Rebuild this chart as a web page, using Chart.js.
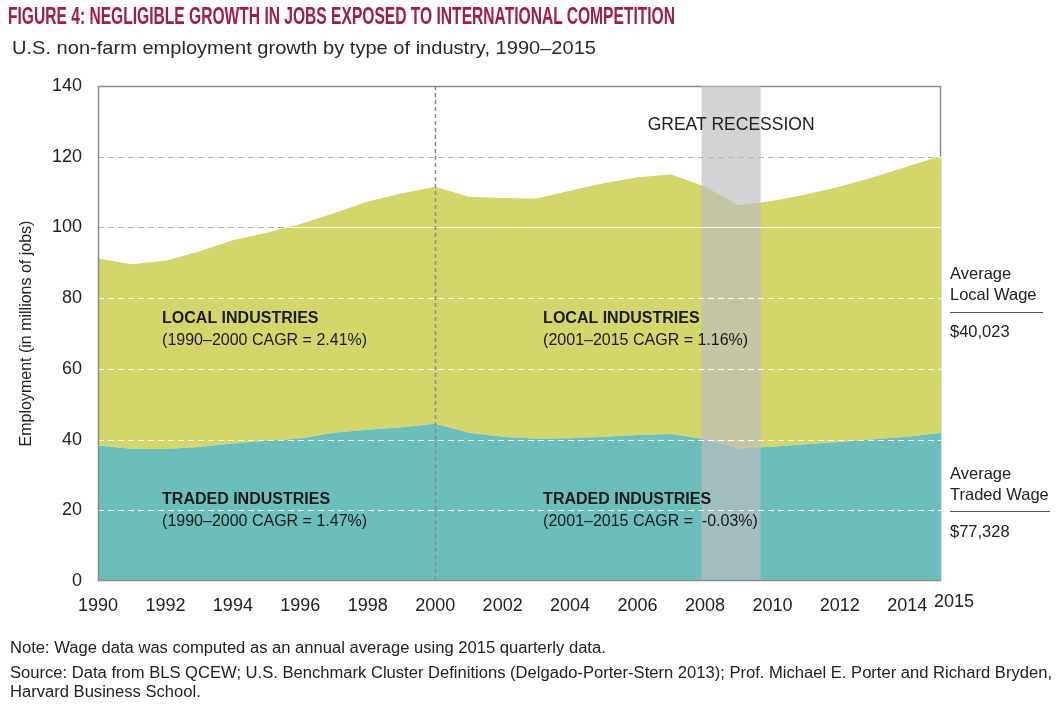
<!DOCTYPE html>
<html>
<head>
<meta charset="utf-8">
<script src="https://cdn.jsdelivr.net/npm/chart.js@4.4.0/dist/chart.umd.min.js"></script>
<style>
html,body{margin:0;padding:0;background:#fff;}
body{width:1062px;height:714px;position:relative;overflow:hidden;font-family:"Liberation Sans",Arial,sans-serif;color:#222;}
#wrap{position:absolute;left:0;top:0;width:1062px;height:714px;}
.t{position:absolute;white-space:nowrap;}
#title{left:8px;font-weight:bold;color:#a31d40;font-size:23.5px;}
#subtitle{left:12px;font-size:19px;color:#2a2a2a;}
.note{left:10px;font-size:16px;color:#222;}
.side{left:950px;font-size:16.5px;line-height:20px;color:#222;}
.rule{position:absolute;left:950px;height:0;border-top:1px solid #555;}
</style>
</head>
<body>
<div id="wrap"><canvas id="c" width="1062" height="714"></canvas></div>
<div class="t" id="title">FIGURE 4: NEGLIGIBLE GROWTH IN JOBS EXPOSED TO INTERNATIONAL COMPETITION</div>
<div class="t" id="subtitle">U.S. non-farm employment growth by type of industry, 1990–2015</div>

<div class="t side" style="top:263px">Average</div>
<div class="t side" style="top:284px">Local Wage</div>
<div class="rule" style="top:312px;width:93px"></div>
<div class="t side" style="top:321px">$40,023</div>

<div class="t side" style="top:463px">Average</div>
<div class="t side" style="top:484px">Traded Wage</div>
<div class="rule" style="top:511px;width:100px"></div>
<div class="t side" style="top:521px">$77,328</div>

<div class="t note" id="note1">Note: Wage data was computed as an annual average using 2015 quarterly data.</div>
<div class="t note" id="note2">Source: Data from BLS QCEW; U.S. Benchmark Cluster Definitions (Delgado-Porter-Stern 2013); Prof. Michael E. Porter and Richard Bryden,</div>
<div class="t note" id="note3">Harvard Business School.</div>

<script>
// ---------------- data ----------------
const years = [1990,1991,1992,1993,1994,1995,1996,1997,1998,1999,2000,2001,2002,2003,2004,2005,2006,2007,2008,2009,2010,2011,2012,2013,2014,2015];
const tradedJobs = [38.3,37.4,37.3,37.9,38.9,39.7,40.3,41.9,42.8,43.5,44.5,41.9,40.8,40.2,40.4,40.8,41.3,41.6,40.1,37.5,38.0,38.7,39.3,40.1,40.8,41.9];
const localJobs  = [52.9,52.2,53.3,55.3,57.5,58.8,60.7,62.1,64.5,66.1,67.0,66.8,67.5,68.0,70.0,71.7,72.9,73.4,71.5,68.8,69.5,70.6,72.3,74.1,76.4,78.3];
const xTickYears = [1990,1992,1994,1996,1998,2000,2002,2004,2006,2008,2010,2012,2014,2015];
const yTickStep = 20;
const recessionSpan = [2007.9, 2009.65];
const periodSplitYear = 2000;
const seriesNames = ['Traded industries','Local industries'];
const periodLabels = [
  {x:1991.9, y:74.1, bold:'LOCAL INDUSTRIES',  text:'(1990–2000 CAGR = 2.41%)'},
  {x:2003.2, y:74.1, bold:'LOCAL INDUSTRIES',  text:'(2001–2015 CAGR = 1.16%)'},
  {x:1991.9, y:22.9, bold:'TRADED INDUSTRIES', text:'(1990–2000 CAGR = 1.47%)'},
  {x:2003.2, y:22.9, bold:'TRADED INDUSTRIES', text:'(2001–2015 CAGR =  -0.03%)'}
];
const recessionLabel = {y:128.8, text:'GREAT RECESSION'};

// ---------------- text placement (condensed by horizontal scaling) ----------------
function placeText(id, centerY, targetWidth, k){
  const el = document.getElementById(id);
  const fs = parseFloat(getComputedStyle(el).fontSize);
  el.style.lineHeight = (fs*1.2) + 'px';
  el.style.top = (centerY - fs*0.6) + 'px';
  if (targetWidth && !k) k = targetWidth / el.getBoundingClientRect().width;
  if (k) {
    el.style.transformOrigin = 'left center';
    el.style.transform = 'scaleX(' + k + ')';
  }
  return k;
}
placeText('title', 16.5, 667);
placeText('subtitle', 48, 584);
const noteK = placeText('note2', 673, 1042);
placeText('note1', 648, 0, noteK);
placeText('note3', 692, 0, noteK);

// ---------------- chart ----------------
const FONT = '"Liberation Sans", Arial, sans-serif';
const overlay = {
  id:'overlay',
  beforeDatasetsDraw(chart){
    const {ctx, chartArea:a} = chart;
    ctx.save();
    ctx.strokeStyle = '#8c8c8c'; ctx.lineWidth = 1.5;
    ctx.beginPath();
    ctx.moveTo(a.left, a.top + 0.5); ctx.lineTo(a.right - 0.5, a.top + 0.5); ctx.lineTo(a.right - 0.5, a.bottom);
    ctx.stroke();
    ctx.restore();
  },
  afterDatasetsDraw(chart){
    const {ctx, chartArea:a, scales:{x, y}} = chart;
    const pts = chart.getDatasetMeta(1).data.map(p => ({x:p.x, y:p.y}));
    // recession band
    const bx0 = x.getPixelForValue(recessionSpan[0]);
    const bx1 = x.getPixelForValue(recessionSpan[1]);
    ctx.save();
    ctx.fillStyle = 'rgba(190,190,194,0.67)';
    ctx.fillRect(bx0, a.top, bx1 - bx0, a.bottom - a.top);
    ctx.restore();

    const gridVals = [];
    for (let v = y.min + yTickStep; v < y.max; v += yTickStep) gridVals.push(v);

    // gridlines above curve (grey dashed)
    ctx.save();
    ctx.beginPath();
    ctx.moveTo(a.left, a.top); ctx.lineTo(pts[0].x, pts[0].y);
    pts.forEach(p => ctx.lineTo(p.x, p.y));
    ctx.lineTo(a.right, a.top); ctx.closePath();
    ctx.clip();
    ctx.strokeStyle = '#b8b8b8'; ctx.lineWidth = 1; ctx.setLineDash([6,4]);
    gridVals.forEach(v => {
      const py = Math.round(y.getPixelForValue(v)) + 0.5;
      ctx.beginPath(); ctx.moveTo(a.left, py); ctx.lineTo(a.right, py); ctx.stroke();
    });
    ctx.restore();

    // gridlines inside fill (white)
    ctx.save();
    ctx.beginPath();
    ctx.moveTo(pts[0].x, a.bottom);
    pts.forEach(p => ctx.lineTo(p.x, p.y));
    ctx.lineTo(pts[pts.length-1].x, a.bottom); ctx.closePath();
    ctx.clip();
    ctx.lineWidth = 1;
    gridVals.forEach(v => {
      const py = Math.round(y.getPixelForValue(v)) + 0.5;
      if (v === 100) { ctx.setLineDash([]); ctx.strokeStyle = 'rgba(255,255,245,0.85)'; }
      else { ctx.setLineDash([6,4]); ctx.strokeStyle = 'rgba(255,255,255,0.95)'; }
      ctx.beginPath(); ctx.moveTo(a.left, py); ctx.lineTo(a.right, py); ctx.stroke();
    });
    ctx.restore();

    // period split line
    ctx.save();
    const sx = Math.round(x.getPixelForValue(periodSplitYear)) + 0.5;
    ctx.strokeStyle = '#8a8a8a'; ctx.lineWidth = 1.5; ctx.setLineDash([4,3]);
    ctx.beginPath(); ctx.moveTo(sx, a.top); ctx.lineTo(sx, a.bottom); ctx.stroke();
    ctx.restore();

    // left + bottom axis lines
    ctx.save();
    ctx.strokeStyle = '#8c8c8c'; ctx.lineWidth = 1.5;
    ctx.beginPath();
    ctx.moveTo(a.left + 0.5, a.top); ctx.lineTo(a.left + 0.5, a.bottom - 0.5); ctx.lineTo(a.right, a.bottom - 0.5);
    ctx.stroke();
    ctx.restore();

    // texts
    ctx.save();
    ctx.fillStyle = '#1a1a1a'; ctx.textBaseline = 'middle'; ctx.textAlign = 'left';
    periodLabels.forEach(l => {
      const px = x.getPixelForValue(l.x), py = y.getPixelForValue(l.y);
      ctx.font = 'bold 16px ' + FONT;
      ctx.fillText(l.bold, px, py);
      ctx.font = '16px ' + FONT;
      ctx.fillText(l.text, px, py + 22);
    });
    ctx.font = '17.5px ' + FONT; ctx.textAlign = 'center'; ctx.fillStyle = '#222';
    ctx.fillText(recessionLabel.text, (bx0 + bx1)/2, y.getPixelForValue(recessionLabel.y));
    // final year tick label (offset like the original)
    ctx.font = '18px ' + FONT; ctx.textAlign = 'left';
    const last = xTickYears[xTickYears.length-1];
    ctx.fillText(String(last), x.getPixelForValue(last) - 7, a.bottom + 21);
    ctx.restore();
  }
};

new Chart(document.getElementById('c'), {
  type:'line',
  data:{
    datasets:[
      {label:seriesNames[0], data:years.map((yr,i)=>({x:yr, y:tradedJobs[i]})), fill:'origin',
       backgroundColor:'#6bbeb9', borderColor:'rgba(0,0,0,0)', borderWidth:0, pointRadius:0, tension:0},
      {label:seriesNames[1], data:years.map((yr,i)=>({x:yr, y:localJobs[i]})), fill:'-1',
       backgroundColor:'#d2d66b', borderColor:'rgba(0,0,0,0)', borderWidth:0, pointRadius:0, tension:0}
    ]
  },
  options:{
    responsive:false, animation:false, devicePixelRatio:1,
    layout:{padding:{left:0, top:86, right:121, bottom:93}},
    plugins:{legend:{display:false}, tooltip:{enabled:false}},
    scales:{
      x:{
        type:'linear', min:1990, max:2015,
        grid:{display:false, drawTicks:false}, border:{display:false},
        afterBuildTicks: s => { s.ticks = xTickYears.map(v => ({value:v})); },
        ticks:{font:{family:FONT, size:18}, color:'#222', padding:14, maxRotation:0, autoSkip:false,
               callback: v => v === xTickYears[xTickYears.length-1] ? '' : String(v)},
        afterFit: s => { s.height = 40; }
      },
      y:{
        stacked:true, min:0, max:140,
        grid:{display:false, drawTicks:false}, border:{display:false},
        ticks:{stepSize:yTickStep, font:{family:FONT, size:18}, color:'#222', padding:16},
        title:{display:true, text:'Employment (in millions of jobs)', font:{family:FONT, size:16}, color:'#222', padding:{top:17, bottom:0}},
        afterFit: s => { s.width = 98; }
      }
    }
  },
  plugins:[overlay]
});
</script>
</body>
</html>
